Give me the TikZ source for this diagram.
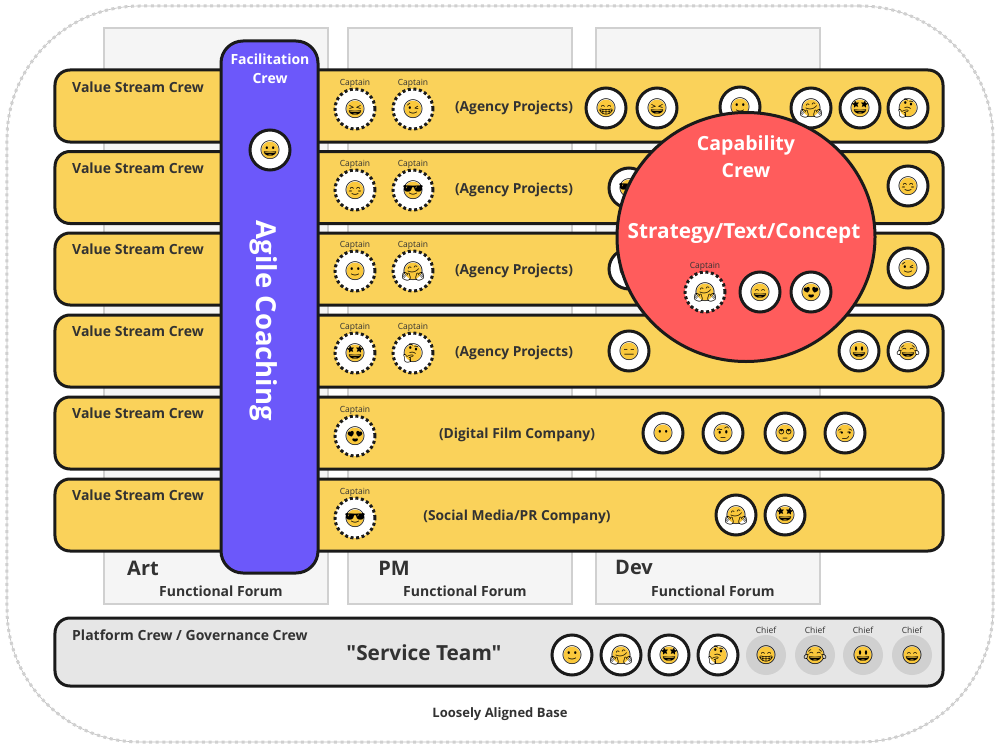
\documentclass[tikz,border=0pt]{standalone}
\usepackage{fontspec}
\usetikzlibrary{shapes.geometric}
\setmainfont{Open Sans}
\newfontfamily\emojifont{Noto Emoji}
\newfontfamily\quotefont{Open Sans}
\definecolor{crewyellow}{RGB}{250,210,90}
\definecolor{crewline}{RGB}{26,26,26}
\definecolor{crewtext}{RGB}{50,50,50}
\definecolor{facepurple}{RGB}{108,88,250}
\definecolor{capred}{RGB}{255,92,92}
\definecolor{forumfill}{RGB}{245,245,245}
\definecolor{forumline}{RGB}{208,208,208}
\definecolor{baseline}{RGB}{190,190,190}
\definecolor{platgray}{RGB}{230,230,230}
\definecolor{chiefgray}{RGB}{208,208,208}
\definecolor{faceyellow}{RGB}{250,200,60}

\begin{document}
\begin{tikzpicture}[x=1bp, y=-1bp,
  lbl/.style={font=\bfseries\fontsize{14bp}{17bp}\selectfont, text=crewtext, inner sep=0pt},
  project/.style={font=\bfseries\fontsize{13.8bp}{16bp}\selectfont, text=crewtext, inner sep=0pt},
  column/.style={font=\bfseries\fontsize{20bp}{24bp}\selectfont, text=crewtext, inner sep=0pt},
  whitelbl/.style 2 args={font=\bfseries\fontsize{#1bp}{#2bp}\selectfont, text=white, inner sep=0pt, align=center},
  forum/.style={draw=forumline, line width=2bp, fill=forumfill, minimum width=224bp, minimum height=576bp},
  crew/.style={draw=crewline, line width=3bp, fill=crewyellow, rounded corners=15bp,
               minimum width=888bp, minimum height=72bp},
  member/.style={circle, draw=crewline, line width=3bp, fill=white, minimum size=40bp, inner sep=0pt,
                 font=\emojifont\fontsize{18.5bp}{19bp}\selectfont,
                 path picture={\fill[faceyellow] (path picture bounding box.center) circle (8.4bp);}},
  captain/.style={member, dash pattern=on 3bp off 2.6bp,
                  label={[captlbl, name=#1]90:Captain}},
  chief/.style={member, draw=none, fill=chiefgray, label={[captlbl, name=#1]90:Chief}},
  captlbl/.style={font=\fontsize{8.5bp}{10bp}\selectfont, text=crewtext, inner sep=0pt, label distance=-0.5bp}
]
  \useasboundingbox (0,0) rectangle (1000,747);

  %% Loosely aligned base
  \node[draw=baseline, line width=.6bp, rounded corners=133bp, minimum width=986bp, minimum height=736bp] (base) at (500,374) {};
  \node[draw=forumline, line width=3bp, dash pattern=on 3bp off 3.6bp, rounded corners=133bp, minimum width=986bp, minimum height=736bp] (basedash) at (500,374) {};
  \node[lbl, font=\bfseries\fontsize{13bp}{16bp}\selectfont] (baselbl) at (500,714) {Loosely Aligned Base};

  %% Functional forums
  \node[forum] (art) at (216,316) {};
  \node[forum] (pm)  at (460,316) {};
  \node[forum] (dev) at (708,316) {};
  \node[column] (artlbl) at (143,568) {Art};
  \node[column] (pmlbl)  at (394,568) {PM};
  \node[column] (devlbl) at (634,567) {Dev};
  \node[lbl] (artforum) at (221,591) {Functional Forum};
  \node[lbl] (pmforum)  at (465,591) {Functional Forum};
  \node[lbl] (devforum) at (713,591) {Functional Forum};

  %% Value stream crews
  \foreach \rowname/\rowy/\lbly in {ra/106/87, rb/187.5/168, rc/269/249, rd/351/331, re/433/413, rf/515/495} {
    \node[crew] (\rowname) at (499,\rowy) {};
    \node[lbl, anchor=west] (\rowname lbl) at (72,\lbly) {Value Stream Crew};
  }
  \node[project] (rap) at (514,108) {(Agency Projects)};
  \node[project] (rbp) at (514,190) {(Agency Projects)};
  \node[project] (rcp) at (514,271) {(Agency Projects)};
  \node[project] (rdp) at (514,353) {(Agency Projects)};
  \node[project] (rep) at (517,435) {(Digital Film Company)};
  \node[project] (rfp) at (517,517) {(Social Media/PR Company)};

  %% First row
  \node[captain=capa] (a1) at (355,109) {😆};
  \node[captain=capb] (a2) at (413,109) {😉};
  \node[member] (a3) at (606,108) {😁};
  \node[member] (a4) at (657,108) {😆};
  \node[member] (a5) at (740,107) {🙂};
  \node[member] (a6) at (811,108) {🤗};
  \node[member] (a7) at (860,108) {🤩};
  \node[member] (a8) at (908,108) {🤔};
  %% Second row
  \node[captain=capc] (b1) at (355,190) {😊};
  \node[captain=capd] (b2) at (413,190) {😎};
  \node[member] (b3) at (629,188) {😎};
  \node[member] (b4) at (908,186) {😊};
  %% Third row
  \node[captain=cape] (c1) at (355,271) {🙂};
  \node[captain=capf] (c2) at (413,271) {🤗};
  \node[member] (c3) at (629,269) {🙂};
  \node[member] (c4) at (908,268) {😉};
  %% Fourth row
  \node[captain=capg] (d1) at (355,353) {🤩};
  \node[captain=caph] (d2) at (413,353) {🤔};
  \node[member] (d3) at (629,351) {😑};
  \node[member] (d4) at (859,351) {😃};
  \node[member] (d5) at (908,351) {😂};
  %% Fifth row
  \node[captain=capi] (e1) at (355,436) {😍};
  \node[member] (e2) at (663,433) {😶};
  \node[member] (e3) at (723,433) {🤨};
  \node[member] (e4) at (785,433) {🙄};
  \node[member] (e5) at (845,433) {😏};
  %% Sixth row
  \node[captain=capj] (f1) at (355,518) {😎};
  \node[member] (f2) at (736,515) {🤗};
  \node[member] (f3) at (785,515) {🤩};

  %% Facilitation crew
  \node[draw=crewline, line width=3bp, fill=facepurple, rounded corners=22bp, minimum width=97bp, minimum height=532bp] (facil) at (269.5,307) {};
  \node[whitelbl={14}{19}] (faciltxt) at (270,69) {Facilitation\\Crew};
  \node[member] (facilface) at (270,150) {😀};
  \node[whitelbl={27.5}{32}, rotate=-90] (agile) at (264,321) {Agile Coaching};

  %% Capability crew
  \node[ellipse, draw=crewline, line width=3bp, fill=capred, minimum width=258bp, minimum height=249bp, inner sep=0pt] (capab) at (746,237) {};
  \node[whitelbl={19.5}{27}] (captxt) at (746,157) {Capability\\Crew};
  \node[whitelbl={20.8}{26}] (strategy) at (744,233) {Strategy/Text/Concept};
  \node[captain=capk] (g1) at (705,292) {🤗};
  \node[member] (g2) at (760,292) {😄};
  \node[member] (g3) at (811,292) {😍};

  %% Platform crew
  \node[crew, fill=platgray, minimum height=68bp] (plat) at (499,652) {};
  \node[lbl, anchor=west] (platlbl) at (72,635) {Platform Crew / Governance Crew};
  \node[column, font=\bfseries\fontsize{20.8bp}{24bp}\selectfont] (service) at (424,652.5) {\quotefont "Service Team"};
  \node[member] (p1) at (572,655) {🙂};
  \node[member] (p2) at (621,655) {🤗};
  \node[member] (p3) at (669,655) {🤩};
  \node[member] (p4) at (718,655) {🤔};
  \node[chief=chfa] (p5) at (766,655) {😁};
  \node[chief=chfb] (p6) at (815,655) {😂};
  \node[chief=chfc] (p7) at (863,655) {😃};
  \node[chief=chfd] (p8) at (912,655) {😄};
\end{tikzpicture}
\end{document}
